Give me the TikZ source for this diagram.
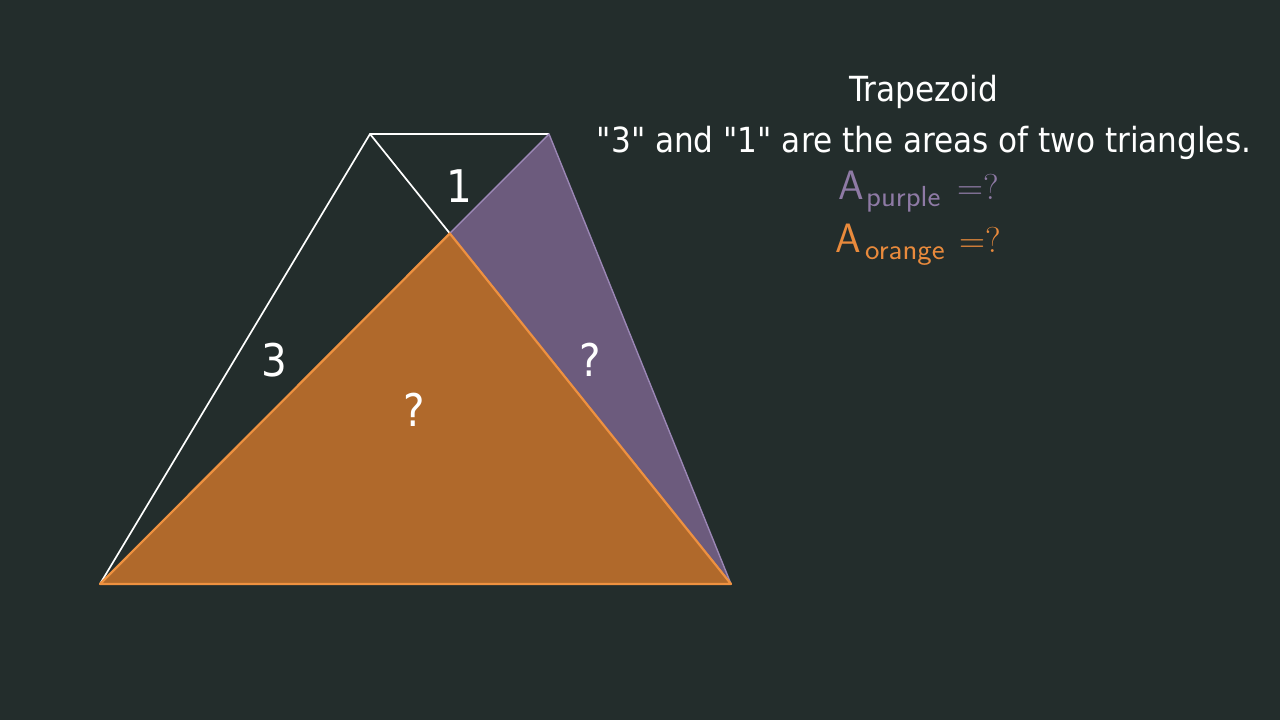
\documentclass[tikz,border=0pt]{standalone}
\usepackage{fontspec}
\setmainfont{DejaVu Sans Condensed}[Ligatures=TeXOff]
\newfontfamily\lmsans{Latin Modern Sans}
\newfontfamily\lmserif{Latin Modern Roman}
\definecolor{bgc}{RGB}{35,45,44}
\definecolor{ofill}{RGB}{176,105,43}
\definecolor{oline}{RGB}{238,145,64}
\definecolor{pfill}{RGB}{108,91,125}
\definecolor{pline}{RGB}{155,135,181}
\definecolor{otext}{RGB}{233,138,60}
\definecolor{ptext}{RGB}{142,122,165}
\tikzset{
  edge/.style={white, line width=1.7pt},
  lbl/.style={text=white, font=\fontsize{45}{45}\selectfont, inner sep=0pt},
  title/.style={text=white, font=\fontsize{34.6}{35}\selectfont, inner sep=0pt, anchor=base},
  bigA/.style={inner sep=0pt, anchor=base west, font=\lmsans\fontsize{41}{41}\selectfont},
  subtxt/.style={inner sep=0pt, anchor=base west, font=\lmsans\fontsize{29}{29}\selectfont},
  eqq/.style={inner sep=0pt, anchor=base west, font=\lmserif\fontsize{36}{36}\selectfont},
}
\begin{document}
\begin{tikzpicture}[x=1pt,y=-1pt]
\fill[bgc] (0,0) rectangle (1280,720);
\useasboundingbox (0,0) rectangle (1280,720);
\coordinate (TL) at (370,134);
\coordinate (TR) at (549,134);
\coordinate (BL) at (100,584);
\coordinate (BR) at (731,584);
\coordinate (M) at (449.8,233.4);
% white outline
\draw[edge] (BL) -- (TL) -- (TR);
\draw[edge] (TL) -- (M);
% purple triangle
\filldraw[fill=pfill, draw=pline, line width=1.4pt, line join=round] (M) -- (TR) -- (BR) -- cycle;
% orange triangle
\filldraw[fill=ofill, draw=oline, line width=2.2pt, line join=round] (BL) -- (M) -- (BR) -- cycle;
% labels
\node[lbl] (l1) at (459,186) {1};
\node[lbl] (l3) at (274,360) {3};
\node[lbl] (lq1) at (590,360) {?};
\node[lbl] (lq2) at (414,410) {?};
% text
\node[title] (t1) at (924,101) {Trapezoid};
\node[title] (t2) at (924,152) {"3" and "1" are the areas of two triangles.};
% A_purple = ?
\node[bigA, text=ptext] (apA) at (838,199) {A};
\node[subtxt, text=ptext] (apS) at (866,206) {\scalebox{1.06}[1]{purple}};
\node[eqq, text=ptext] (apE) at (957,199) {=?};
% A_orange = ?
\node[bigA, text=otext] (aoA) at (835,252) {A};
\node[subtxt, text=otext] (aoS) at (865,259) {\scalebox{1.06}[1]{orange}};
\node[eqq, text=otext] (aoE) at (959,252) {=?};
\end{tikzpicture}
\end{document}
